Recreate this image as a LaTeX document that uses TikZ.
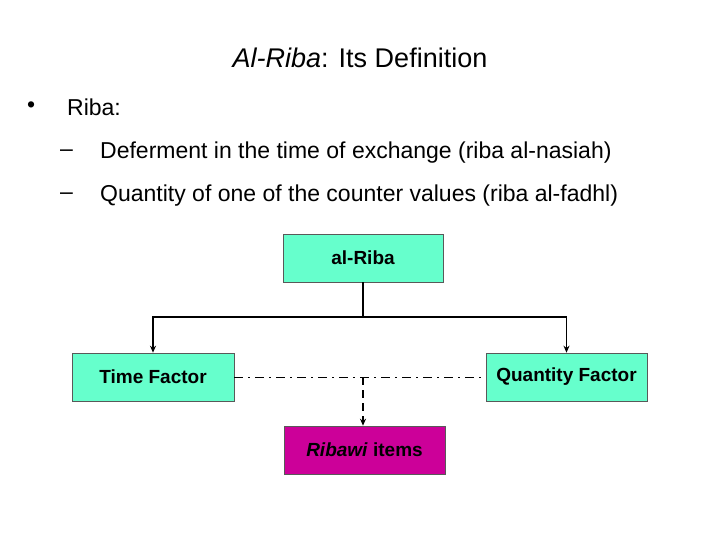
\documentclass[tikz,border=0pt]{standalone}
\usepackage{fontspec}
\setmainfont{Liberation Sans}
\usetikzlibrary{arrows.meta}
\begin{document}
\begin{tikzpicture}[x=1pt,y=-1pt,
  box/.style={draw=gray!70!black,line width=0.6pt,fill=aqua,minimum width=161pt,minimum height=48pt,inner sep=0pt,font=\fontsize{19}{22}\selectfont\bfseries},
  txt/.style={anchor=west,inner sep=0pt,font=\fontsize{23}{27}\selectfont},
  conn/.style={line width=1.3pt},
  tip/.style={-{Stealth[length=7pt,width=6pt]}}]
\definecolor{aqua}{HTML}{66FFCC}
\definecolor{mag}{HTML}{CC0099}
\useasboundingbox (0,0) rectangle (720,540);
\node[inner sep=0pt,font=\fontsize{27}{32}\selectfont] (title) at (360,58) {\textit{Al-Riba}: Its Definition};
\node[txt] (b1) at (27,107) {•};
\node[txt] (t1) at (67,107) {Riba:};
\node[txt] (d1) at (60,153) {–};
\node[txt] (t2) at (100,153) {Deferment in the time of exchange (riba al-nasiah)};
\node[txt] (d2) at (60,196) {–};
\node[txt] (t3) at (100,196) {Quantity of one of the counter values (riba al-fadhl)};
\node[box,minimum width=160pt] (r) at (363,258) {al-Riba};
\node[box,minimum width=162pt] (tf) at (153,377) {Time Factor};
\node[box] (qf) at (566.5,377) {Quantity Factor};
\node[box,fill=mag] (rw) at (364.5,450) {\textit{Ribawi} items};
\coordinate (j) at (363,317);
\coordinate (m) at (363,377);
\draw[conn] (r.south) -- (j);
\draw[conn,tip] (j) -| (tf.north);
\draw[conn,tip] (j) -| (qf.north);
\draw[line width=1pt,dash pattern=on 9pt off 5pt on 2pt off 5pt] (tf.east) -- (qf.west);
\draw[line width=1.3pt,dash pattern=on 8pt off 5pt,tip] (m) -- (m |- rw.north);
\end{tikzpicture}
\end{document}
